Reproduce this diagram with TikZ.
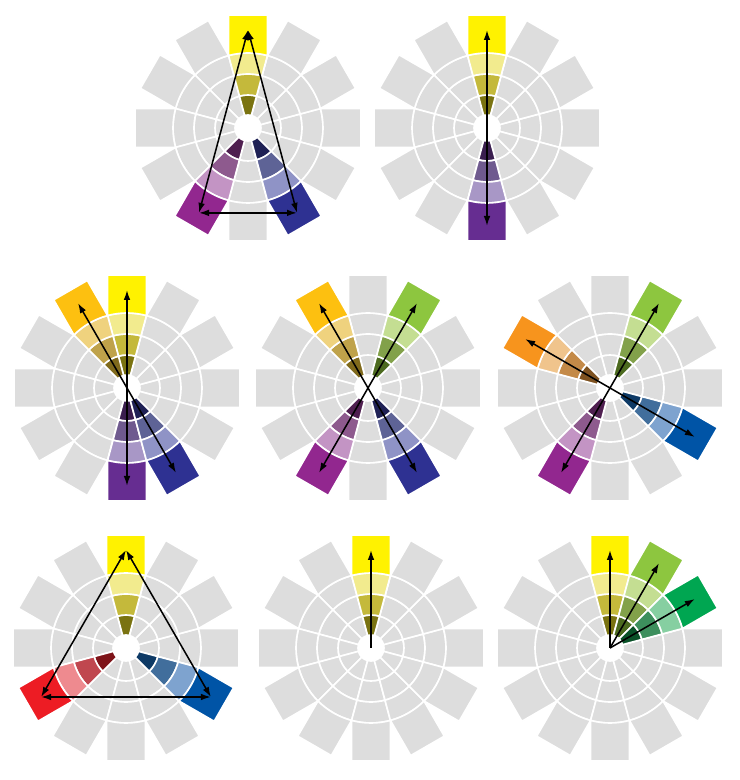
\documentclass[tikz,border=0pt]{standalone}
\usepackage{tikz}
\usetikzlibrary{arrows.meta}

\definecolor{wgray}{HTML}{DDDDDD}
% yellow
\definecolor{yel}{HTML}{FFF200}
\definecolor{yel3}{HTML}{F2EB8E}
\definecolor{yel2}{HTML}{C4B93B}
\definecolor{yel1}{HTML}{7A7311}
% amber
\definecolor{amb}{HTML}{FDC010}
\definecolor{amb3}{HTML}{EFD27E}
\definecolor{amb2}{HTML}{BFA24A}
\definecolor{amb1}{HTML}{806A1C}
% orange
\definecolor{ora}{HTML}{F7941D}
\definecolor{ora3}{HTML}{F0C48C}
\definecolor{ora2}{HTML}{C48A48}
\definecolor{ora1}{HTML}{7E5220}
% red
\definecolor{red}{HTML}{ED1C24}
\definecolor{red3}{HTML}{EE8A8F}
\definecolor{red2}{HTML}{C0474F}
\definecolor{red1}{HTML}{7E1419}
% purple
\definecolor{pur}{HTML}{92278F}
\definecolor{pur3}{HTML}{C394C4}
\definecolor{pur2}{HTML}{8E5A8E}
\definecolor{pur1}{HTML}{4F1F50}
% violet
\definecolor{vio}{HTML}{662D91}
\definecolor{vio3}{HTML}{A897C6}
\definecolor{vio2}{HTML}{6F5A8F}
\definecolor{vio1}{HTML}{3A1E4F}
% blue-violet
\definecolor{blv}{HTML}{2E3192}
\definecolor{blv3}{HTML}{8F93C6}
\definecolor{blv2}{HTML}{5E6396}
\definecolor{blv1}{HTML}{1F2155}
% blue
\definecolor{blu}{HTML}{0054A6}
\definecolor{blu3}{HTML}{7EA3CF}
\definecolor{blu2}{HTML}{416E9C}
\definecolor{blu1}{HTML}{0E3A66}
% yellow-green
\definecolor{ygr}{HTML}{8DC63F}
\definecolor{ygr3}{HTML}{C4DE92}
\definecolor{ygr2}{HTML}{82A14A}
\definecolor{ygr1}{HTML}{4C6A1F}
% green
\definecolor{grn}{HTML}{00A651}
\definecolor{grn3}{HTML}{86CFA1}
\definecolor{grn2}{HTML}{3D8F5D}
\definecolor{grn1}{HTML}{0A5128}

\begin{document}
\begin{tikzpicture}
[x=0.03cm,y=0.03cm,
 seg/.style={draw=white,line width=1.4pt},
 link/.style={{Latex[length=3mm,width=2mm]}-{Latex[length=3mm,width=2mm]},line width=1.3pt},
 ray/.style={-{Latex[length=3mm,width=2mm]},line width=1.3pt}]

\useasboundingbox (0,0) rectangle (740,780);

% grey wheels
\foreach \cx/\cy/\n in {248/652/w1, 487/652/w2, 127/392/w3, 368/392/w4,
                        610/392/w5, 126/132/w6, 371/132/w7, 610/132/w8} {
  \coordinate (\n) at (\cx,\cy);
  \foreach \a in {0,30,...,330} {
    \begin{scope}[shift={(\cx,\cy)},rotate=\a]
      \foreach \ri/\ro in {13/33,33/54,54/75}
        \filldraw[seg,fill=wgray] (-15:\ri) arc[start angle=-15,end angle=15,radius=\ri]
          -- (15:\ro) arc[start angle=15,end angle=-15,radius=\ro] -- cycle;
      \filldraw[seg,fill=wgray] (-15:75) arc[start angle=-15,end angle=15,radius=75]
        -- (113,19.41) -- (113,-19.41) -- cycle;
    \end{scope}
  }
}

% coloured segments
\foreach \n/\a/\c in {w1/90/yel, w1/240/pur, w1/300/blv,
                      w2/90/yel, w2/270/vio,
                      w3/90/yel, w3/120/amb, w3/270/vio, w3/300/blv,
                      w4/60/ygr, w4/120/amb, w4/240/pur, w4/300/blv,
                      w5/60/ygr, w5/150/ora, w5/240/pur, w5/330/blu,
                      w6/90/yel, w6/210/red, w6/330/blu,
                      w7/90/yel,
                      w8/90/yel, w8/60/ygr, w8/30/grn} {
  \begin{scope}[shift={(\n)},rotate=\a]
    \foreach \ri/\ro/\k in {13/33/1,33/54/2,54/75/3}
      \filldraw[seg,fill=\c\k] (-15:\ri) arc[start angle=-15,end angle=15,radius=\ri]
        -- (15:\ro) arc[start angle=15,end angle=-15,radius=\ro] -- cycle;
    \filldraw[seg,fill=\c] (-15:75) arc[start angle=-15,end angle=15,radius=75]
      -- (113,19.41) -- (113,-19.41) -- cycle;
  \end{scope}
  \path (\n) ++(\a:98) coordinate (\n-\a);
}

% harmonies
\draw[link] (w1-90) -- (w1-240);
\draw[link] (w1-90) -- (w1-300);
\draw[link] (w1-240) -- (w1-300);

\draw[link] (w2-90) -- (w2-270);

\draw[link] (w3-90) -- (w3-270);
\draw[link] (w3-120) -- (w3-300);

\draw[link] (w4-120) -- (w4-300);
\draw[link] (w4-60) -- (w4-240);

\draw[link] (w5-150) -- (w5-330);
\draw[link] (w5-60) -- (w5-240);

\draw[link] (w6-90) -- (w6-210);
\draw[link] (w6-90) -- (w6-330);
\draw[link] (w6-210) -- (w6-330);

\draw[ray] (w7) -- (w7-90);

\draw[ray] (w8) -- (w8-90);
\draw[ray] (w8) -- (w8-60);
\draw[ray] (w8) -- (w8-30);
\end{tikzpicture}
\end{document}
